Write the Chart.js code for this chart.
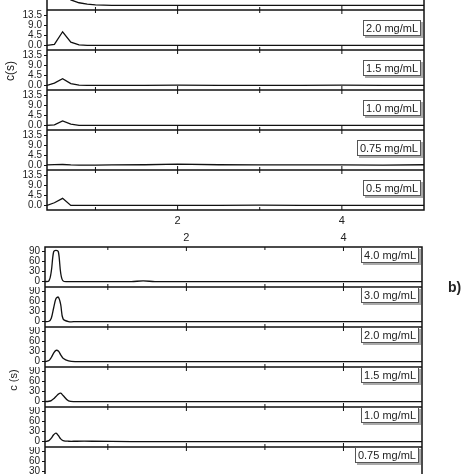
<!DOCTYPE html>
<html><head><meta charset="utf-8">
<script src="https://cdn.jsdelivr.net/npm/chart.js@4"></script>
<style>
body{margin:0;background:#fff;width:474px;height:474px;overflow:hidden;position:relative;font-family:"Liberation Sans",Arial,sans-serif}
canvas.c{position:absolute;left:0}
.lab{position:absolute;background:#fff;border:1px solid #555;box-shadow:2px 2px 0 #aaa;font-size:11px;color:#222;padding:1px 2px;white-space:nowrap}
.t{position:absolute;font-size:11px;color:#222}
</style></head><body>
<script>
// ---- data ----
const xTop = [0.41,0.5,0.6,0.7,0.8,0.9,1.0,1.2,1.6,2.0,2.5,3.0,3.5,4.0,4.5,5.0];
const topLabels = ["4.0 mg/mL","2.0 mg/mL","1.5 mg/mL","1.0 mg/mL","0.75 mg/mL","0.5 mg/mL"];
const topSeries = [
  [60,50,8,2.5,1.2,0.6,0.2,0,0,0,0,0,0,0,0,0],
  [0,0.5,6.2,1.5,0.2,0,0,0,0,0,0,0,0,0,0,0],
  [0,1.0,3.0,0.8,0.1,0,0,0,0,0.1,0,0,0,0.1,0,0],
  [0,0.2,2.0,0.6,0,0,0,0,0,0,0,0,0,0,0,0],
  [0.2,0.3,0.4,0.2,0.1,0.1,0.1,0.2,0.3,0.6,0.3,0.2,0.2,0.2,0.1,0.3],
  [0,1.2,3.2,0,0,0,0,0,0,0,0,0.1,0,0,0,0]
];
const topTicks = [0,4.5,9,13.5];
const xBot = [0.2,0.25,0.28,0.31,0.34,0.37,0.40,0.43,0.5,0.6,0.8,1.3,1.45,1.6,2,3,4,5];
const botLabels = ["4.0 mg/mL","3.0 mg/mL","2.0 mg/mL","1.5 mg/mL","1.0 mg/mL","0.75 mg/mL"];
const botSeries = [
  [0,2,30,88,92,88,25,2,0,0,0,0,2,0,0,0,0,0],
  [0,1,10,40,68,72,50,8,0,0,0,0,0,0,0,0,0,0],
  [0,3,12,25,33,31,20,10,2,0,0,0,0,0,0,0,0,0],
  [0,1,3,8,15,22,25,18,2,0,0,0,0,0,0,0,0,0],
  [0,3,10,20,25,18,8,3,1,1,1,0,0,0,0,0,0,0],
  [0,0,0,0,0,0,0,0,0,0,0,0,0,0,0,0,0,0]
];
const botTicks = [0,30,60,90];
const xTickLabels = [2,4];

const frame = {id:'frame', afterDraw(ch, a, o){
  const {ctx, chartArea:ca, scales:{x}} = ch;
  ctx.save(); ctx.strokeStyle='#111'; ctx.lineWidth=1.5;
  ctx.strokeRect(ca.left, ca.top, ca.right-ca.left, ca.bottom-ca.top);
  ctx.lineWidth=1;
  for(const v of [1,2,3,4]){
    const px=x.getPixelForValue(v); const big = v%2===0 ? 4:3;
    ctx.beginPath(); ctx.moveTo(px,ca.bottom); ctx.lineTo(px,ca.bottom-big);
    ctx.moveTo(px,ca.top); ctx.lineTo(px,ca.top+big); ctx.stroke();
  }
  ctx.fillStyle='#222'; ctx.font='11px "Liberation Sans"'; ctx.textAlign='center';
  if(o.below){ for(const v of xTickLabels) ctx.fillText(v, x.getPixelForValue(v), ca.bottom+o.below); }
  if(o.above){ for(const v of xTickLabels) ctx.fillText(v, x.getPixelForValue(v), ca.top-o.above); }
  ctx.restore();
}};

function panel(top, plotLeft, plotRight, xs, ys, ymin, ymax, ticks, dec, tension, opts){
  const padT = opts.padT||0, padB = opts.padB||0;
  const cv = document.createElement('canvas'); cv.className='c';
  const W = plotRight+3, H = 40+padT+padB;
  cv.width=W; cv.height=H; cv.style.width=W+'px'; cv.style.height=H+'px';
  cv.style.top=(top-padT)+'px';
  document.body.appendChild(cv);
  new Chart(cv,{type:'line',
    data:{datasets:[{data:xs.map((v,i)=>({x:v,y:ys[i]})),borderColor:'#111',borderWidth:1.3,pointRadius:0,tension:tension,fill:false}]},
    options:{responsive:false,devicePixelRatio:1,animation:false,
      layout:{padding:{top:padT,bottom:padB,right:2,left:0}},
      plugins:{legend:{display:false},tooltip:{enabled:false},frame:opts},
      scales:{
        x:{type:'linear',min:opts.xmin,max:5.0,display:false},
        y:{min:ymin,max:ymax,afterFit(s){s.width=plotLeft;s.paddingTop=0;s.paddingBottom=0;},
           afterBuildTicks(s){s.ticks=ticks.map(v=>({value:v}));},
           grid:{drawOnChartArea:false,tickLength:3,color:'#111'},border:{display:false},
           ticks:{color:'#222',font:{size:10,family:'Liberation Sans',lineHeight:1},padding:2,autoSkip:false,
             callback:v=>dec?v.toFixed(1):String(v)}}
      }},
    plugins:[frame]});
}
// top section
const topTops=[-30,10,50,90,130,170];
topSeries.forEach((s,i)=>{
  panel(topTops[i],47,423,xTop,s,-2.1,16.1,topTops[i]<0?[]:topTicks,true,0,
    {xmin:0.41,padB:i===5?30:0,below:i===5?14:0});
  if(topTops[i]>=0){const l=document.createElement('div');l.className='lab';
    l.style.top=(topTops[i]+10)+'px';l.style.right=(474-421)+'px';l.textContent=topLabels[i];document.body.appendChild(l);}
});
// bottom section
const botTops=[247,287,327,367,407,447];
botSeries.forEach((s,i)=>{
  panel(botTops[i],45,421,xBot,s,-16,102,botTicks,false,0.35,
    {xmin:0.2,padT:i===0?18:0,above:i===0?6:0});
  const l=document.createElement('div');l.className='lab';
  l.style.top=(botTops[i])+'px';l.style.right=(474-419)+'px';l.textContent=botLabels[i];document.body.appendChild(l);
});
function txt(t,x,y,css){const d=document.createElement('div');d.className='t';d.textContent=t;d.style.left=x+'px';d.style.top=y+'px';Object.assign(d.style,css||{});document.body.appendChild(d);}
txt('c(s)',0,64,{transform:'rotate(-90deg)',fontSize:'12px'});
txt('c (s)',2,374,{transform:'rotate(-90deg)',fontSize:'11px'});
txt('b)',448,279,{fontSize:'14px',fontWeight:'bold'});
</script>
</body></html>
